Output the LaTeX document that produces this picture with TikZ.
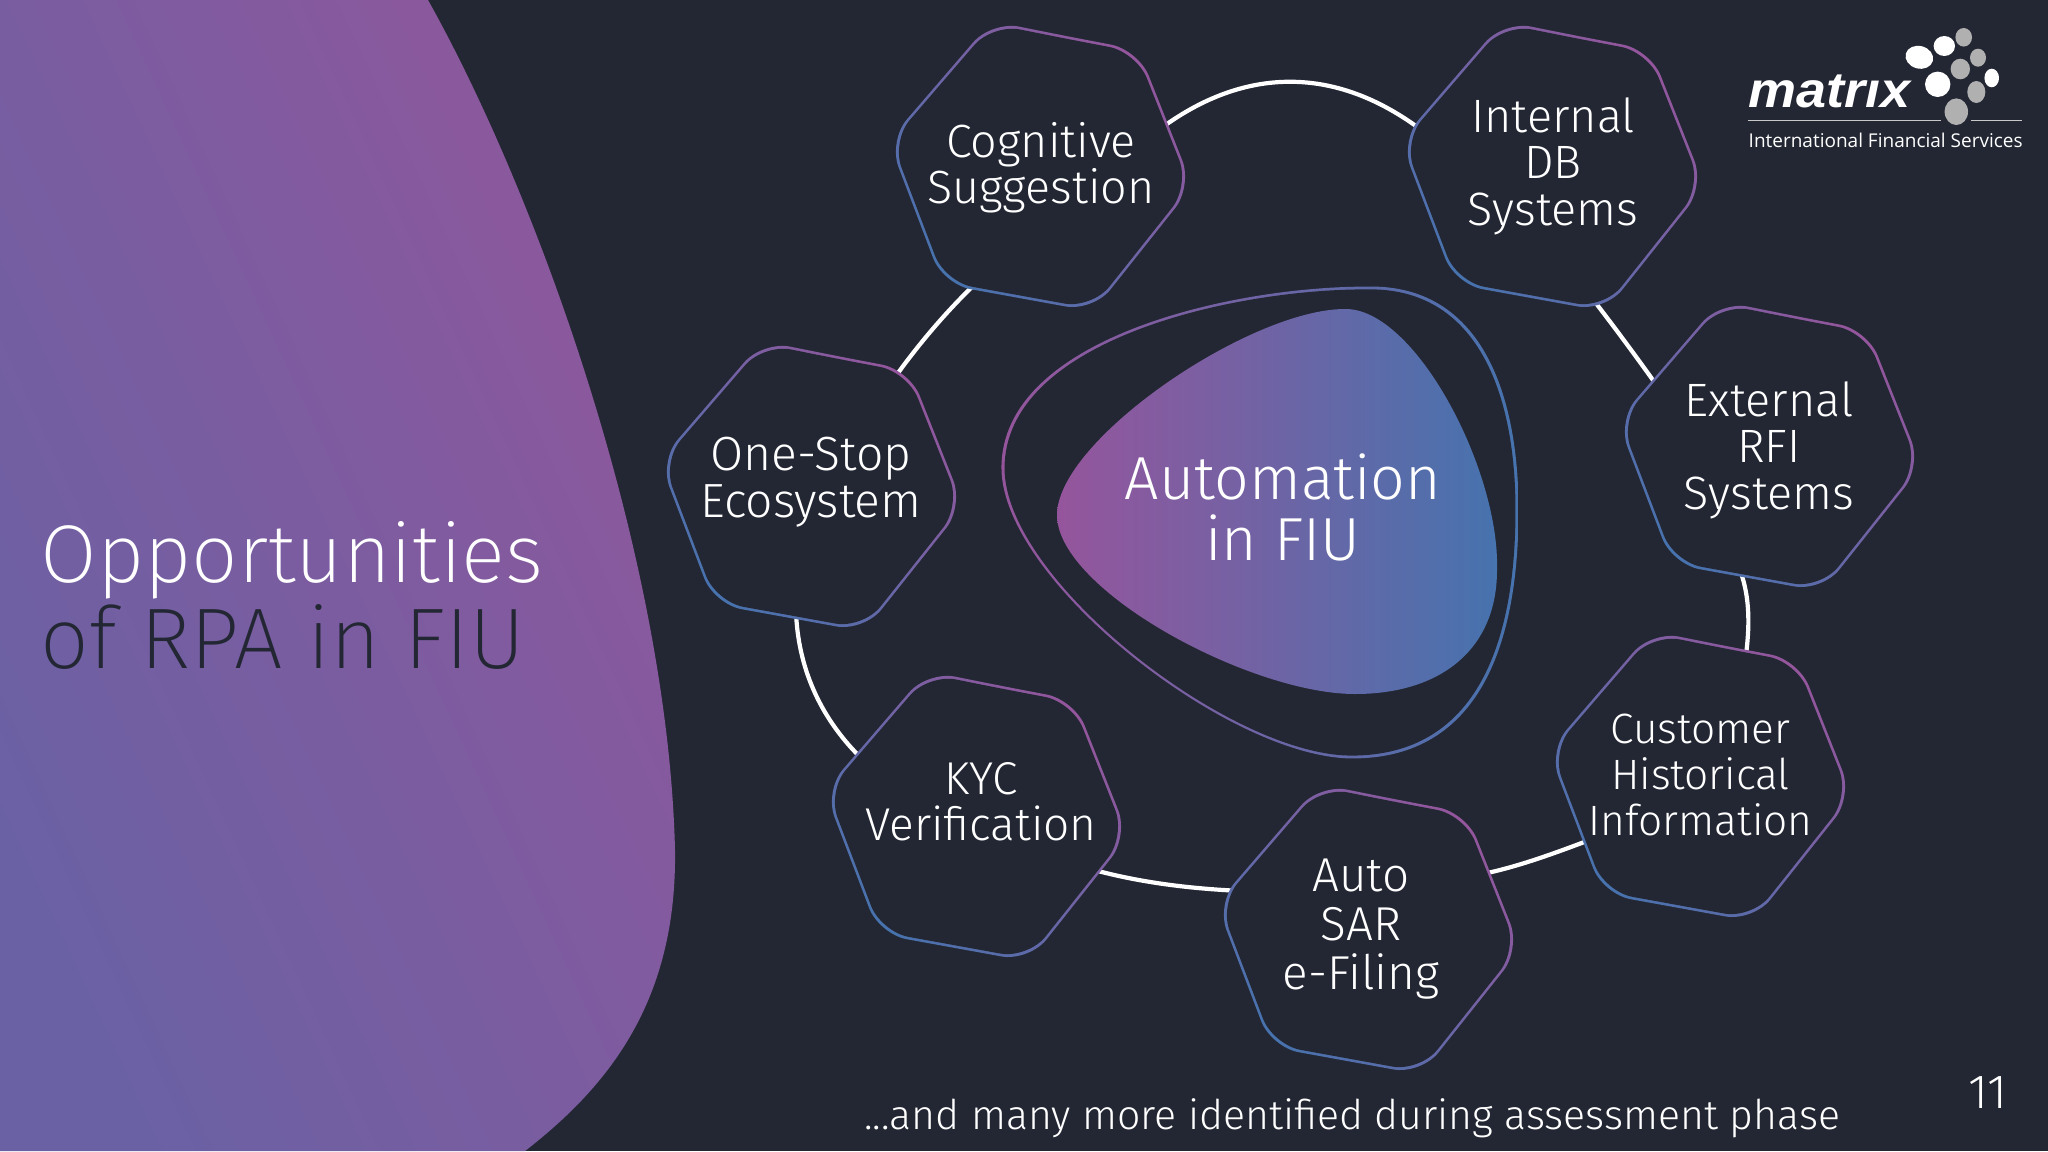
\documentclass[tikz,border=0pt]{standalone}
\usepackage{fontspec}
\setmainfont{Fira Sans Light}
\newfontfamily\titlefont{Fira Sans ExtraLight}
\newfontfamily\logofont{Liberation Sans Bold Italic}
\newfontfamily\logosub{Open Sans}
\definecolor{bgdark}{HTML}{232733}
\definecolor{hexpurple}{HTML}{95559C}
\definecolor{hexblue}{HTML}{4673AE}
\definecolor{panelpurple}{HTML}{8E579C}
\definecolor{panelblue}{HTML}{6A61A4}
\definecolor{logogray}{HTML}{B0B0B0}
\pgfdeclarelayer{back}
\pgfsetlayers{back,main}
\tikzset{
  ringline/.style={draw=white,line width=2.1pt},
  hexfont/.style={text=white,align=center,inner sep=0pt},
  hexshade/.style={left color=hexblue,right color=hexpurple,shading angle=135},
  blobshade/.style={left color=hexpurple,right color=hexblue,shading angle=90},
  logodotw/.style={fill=white},
  logodotg/.style={fill=logogray},
}
\newcommand\hexcontour{(24,-129) -- (97.5,-115) -- (151,20) -- (52.5,144) -- (-96,117) -- (-150,-25) -- (-48,-143.5) -- cycle}
\newcommand\hexa[2]{%
  \shade[hexshade,shift={(#1,#2)},scale=1.01,rounded corners=14pt] \hexcontour;
  \fill[bgdark,shift={(#1,#2)},scale=.99,rounded corners=14pt] \hexcontour;
}
\newcommand\outerblob{(1366,288) .. controls (1480,285) and (1517,395) .. (1517,510) .. controls (1517,640) and (1480,757) .. (1352,757) .. controls (1230,757) and (1003,580) .. (1003,468) .. controls (1003,340) and (1230,288) .. (1366,288) -- cycle}
\begin{document}
\begin{tikzpicture}[x=0.5pt,y=-0.5pt]
\useasboundingbox (0,0) rectangle (2048,1151);
% text nodes
\node[hexfont,font=\fontsize{23.3}{23.2}\selectfont] (cog) at (1041,168) {Cognitive\\Suggestion};
\node[hexfont,font=\fontsize{23.4}{23.2}\selectfont] (idb) at (1553,166) {Internal\\DB\\Systems};
\node[hexfont,font=\fontsize{23.4}{23.2}\selectfont] (ext) at (1769,450) {External\\RFI\\Systems};
\node[hexfont,font=\fontsize{21.2}{23.2}\selectfont] (cust) at (1700.5,775) {Customer\\Historical\\Information};
\node[hexfont,font=\fontsize{23.8}{24.5}\selectfont] (sar) at (1361,929) {Auto\\SAR\\e-Filing};
\node[hexfont,font=\fontsize{23}{23.2}\selectfont] (kyc) at (981,802) {KYC\\Verification};
\node[hexfont,font=\fontsize{24}{23.2}\selectfont] (one) at (811,482) {One-Stop\\Ecosystem};
\begin{pgfonlayer}{back}
\fill[bgdark] (0,0) rectangle (2048,1151);
\shade[left color=panelblue,right color=panelpurple,shading angle=115]
  (0,0) -- (428,0) .. controls (540,200) and (668,560) .. (675,850) .. controls (677,1000) and (610,1085) .. (525,1151) -- (0,1151) -- cycle;
% connectors, ends hidden beneath the hexagons
\draw[ringline] (cog.center) -- (1160,129) .. controls (1245,66) and (1335,66) .. (1420,129) -- (idb.center);
\draw[ringline] (idb.center) -- (1595,302) .. controls (1615,328) and (1635,355) .. (1655,383) -- (ext.center);
\draw[ringline] (ext.center) -- (1740,570) .. controls (1751,600) and (1749,630) .. (1746,655) -- (cust.center);
\draw[ringline] (cust.center) -- (1587,841) .. controls (1555,853) and (1520,866) .. (1485,873.5) -- (sar.center);
\draw[ringline] (sar.center) -- (1232,890.5) .. controls (1185,888) and (1140,882) .. (1098,871) -- (kyc.center);
\draw[ringline] (kyc.center) -- (860,757) .. controls (818,715) and (798,665) .. (796,612) -- (one.center);
\draw[ringline] (one.center) -- (898,373) .. controls (922,340) and (948,310) .. (975,284) -- (cog.center);
% hexagons
\hexa{1040}{166}
\hexa{1552}{166}
\hexa{1769}{446}
\hexa{1700}{776}
\hexa{1368}{929}
\hexa{976}{816}
\hexa{811}{486}
% central blobs
\begin{scope}[shift={(1262,520)},scale=1.006,shift={(-1262,-520)}]
\shade[blobshade] \outerblob;
\end{scope}
\begin{scope}[shift={(1262,520)},scale=.994,shift={(-1262,-520)}]
\fill[bgdark] \outerblob;
\end{scope}
\shade[blobshade] (1345,309) .. controls (1415,308) and (1500,470) .. (1497,570) .. controls (1497,650) and (1440,694) .. (1355,694) .. controls (1250,694) and (1057,590) .. (1057,515) .. controls (1057,440) and (1250,309) .. (1345,309) -- cycle;
\end{pgfonlayer}
\node[text=white,align=center,inner sep=0pt,font=\fontsize{30.4}{30.5}\selectfont] (auto) at (1283,507) {Automation\\in FIU};
% title
\node[anchor=base west,inner sep=0pt,text=white,font=\titlefont\fontsize{41}{41}\selectfont] (t1) at (40,582) {Opportunities};
\node[anchor=base west,inner sep=0pt,text=bgdark,font=\titlefont\fontsize{43}{43}\selectfont] (t2) at (40,668) {of RPA in FIU};
% footer
\node[anchor=base west,inner sep=0pt,text=white,font=\fontsize{20.5}{20.5}\selectfont] (foot) at (864,1129) {...and many more identified during assessment phase};
\node[inner sep=0pt,text=white,font=\fontsize{24}{24}\selectfont] (pgnum) at (1988,1093) {11};
% logo
\fill[logodotw,rotate around={-15:(1919.3,57.3)}] (1919.3,57.3) ellipse [x radius=14,y radius=11.3];
\fill[logodotw] (1944.3,46) ellipse [x radius=10.7,y radius=10];
\fill[logodotw] (1937.7,84.3) ellipse [x radius=12.7,y radius=12.7];
\fill[logodotw] (1991.7,78) ellipse [x radius=7.3,y radius=9.3];
\fill[logodotg] (1963.7,37.3) ellipse [x radius=8.3,y radius=9.3];
\fill[logodotg] (1978,57.7) ellipse [x radius=8,y radius=9];
\fill[logodotg] (1960.3,69) ellipse [x radius=9.7,y radius=10.3];
\fill[logodotg] (1976.3,92) ellipse [x radius=9,y radius=11];
\fill[logodotg] (1956.3,111.7) ellipse [x radius=11.7,y radius=13.3];
\node[anchor=base west,inner sep=0pt,text=white,font=\logofont\fontsize{25}{25}\selectfont] (matrix) at (1748,107.3) {\scalebox{1.08}[1]{matrıx}};
\coordinate (la) at (1748.3,120.7);
\coordinate (lb) at (1940.7,120.7);
\coordinate (lc) at (1971,120.7);
\coordinate (ld) at (2021.7,120.7);
\draw[logogray!70!white,line width=.6pt] (la) -- (lb) (lc) -- (ld);
\node[anchor=base west,inner sep=0pt,text=white,font=\logosub\fontsize{9.5}{9.5}\selectfont] (ifs) at (1748.3,147.3) {International Financial Services};
\end{tikzpicture}
\end{document}
